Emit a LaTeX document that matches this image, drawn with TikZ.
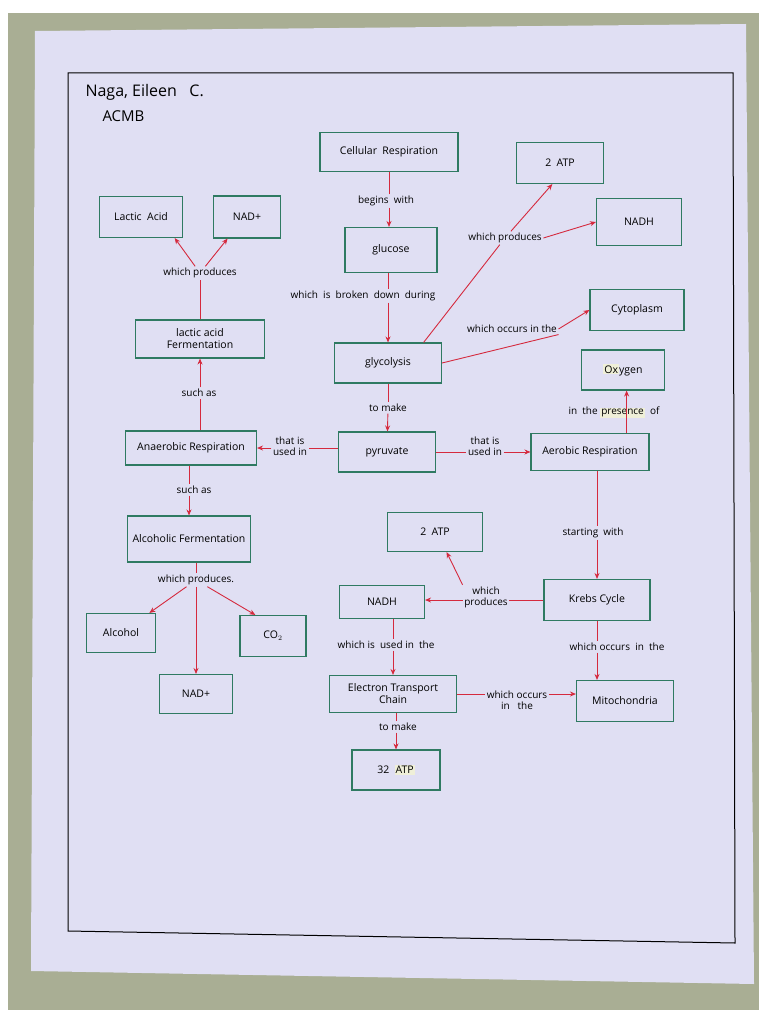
\documentclass[tikz,border=0pt]{standalone}
\usepackage{fontspec}
\setmainfont{Open Sans}
\usepackage{tikz}
\usetikzlibrary{arrows.meta}
\definecolor{paper}{HTML}{E0DFF3}
\definecolor{desk}{HTML}{A9AE94}
\definecolor{pen}{HTML}{2F7A62}
\definecolor{ink}{HTML}{D52A3E}
\definecolor{tape}{HTML}{EFEFD8}

\begin{document}
\begin{tikzpicture}[x=1pt, y=-1pt, >={Stealth[length=6pt,width=5pt]},
      box/.style={draw=pen, line width=1.1pt, inner sep=0pt,
                  font=\fontsize{10.5}{12}\selectfont, align=center},
      sz/.style 2 args={minimum width=#1, minimum height=#2},
      lbl/.style={font=\fontsize{10}{11}\selectfont, inner sep=1.5pt, align=center},
      link/.style={draw=ink, line width=0.9pt}]
    \useasboundingbox (0,0) rectangle (768,1024);
    \fill[white] (0,0) rectangle (768,1024);
    \fill[desk] (8,13) rectangle (759,1010);
    \fill[paper] (35,31) -- (746,24) -- (754,984) -- (31,971) -- cycle;
    \draw[line width=1pt] (68,73) -- (733,73) -- (735,943) -- (68,931) -- cycle;
    \node[anchor=west, font=\fontsize{16}{18}\selectfont] (who) at (82,92) {Naga,\ Eileen\ \ \ C.};
    \node[anchor=west, font=\fontsize{15}{17}\selectfont] (cls) at (99,116) {ACMB};
    \fboxsep=1pt
    % boxes
    \node[box, sz={138}{39}] (cellresp) at (389,152) {Cellular\ \ Respiration};
    \node[box, sz={87}{41}] (atpA) at (560,163) {2\ \ ATP};
    \node[box, sz={85}{47}] (nadhA) at (639,222) {NADH};
    \node[box, sz={83}{41}] (lacacid) at (141,217) {Lactic\ \ Acid};
    \node[box, sz={67}{42}] (nadA) at (247,217) {NAD+};
    \node[box, sz={92}{45}] (glucose) at (391,250) {glucose};
    \node[box, sz={94}{41}] (cyto) at (637,310) {Cytoplasm};
    \node[box, sz={129}{38}] (lacferm) at (200,339) {lactic acid\\Fermentation};
    \node[box, sz={107}{40}] (glyco) at (388,363) {glycolysis};
    \node[box, sz={83}{40}] (oxy) at (623,370) {\colorbox{tape}{Ox}ygen};
    \node[box, sz={131}{34}] (anaer) at (191,448) {Anaerobic Respiration};
    \node[box, sz={97}{40}] (pyru) at (387,452) {pyruvate};
    \node[box, sz={118}{37}] (aer) at (590,452) {Aerobic Respiration};
    \node[box, sz={123}{46}] (alcferm) at (189,539) {Alcoholic Fermentation};
    \node[box, sz={95}{39}] (atpB) at (435,532) {2\ \ ATP};
    \node[box, sz={106}{41}] (krebs) at (597,600) {Krebs Cycle};
    \node[box, sz={85}{33}] (nadhB) at (382,602) {NADH};
    \node[box, sz={69}{39}] (alcohol) at (121,633) {Alcohol};
    \node[box, sz={66}{41}] (cotwo) at (273,636) {CO$_2$};
    \node[box, sz={73}{39}] (nadB) at (196,694) {NAD+};
    \node[box, sz={127}{37}] (etc) at (393,694) {Electron Transport\\Chain};
    \node[box, sz={97}{41}] (mito) at (625,701) {Mitochondria};
    \node[box, sz={88}{40}] (atpC) at (396,770) {32\ \ \colorbox{tape}{ATP}};
    % labels
    \node[lbl] (begins) at (386,201) {begins\ \ with};
    \node[lbl] (broken) at (363,296) {which\ \ is\ \ broken\ \ down\ \ during};
    \node[lbl] (prodA) at (505,238) {which\ produces};
    \node[lbl] (occA) at (512,329) {which occurs\ in\ the};
    \node[lbl] (prodL) at (200,273) {which\ produces};
    \node[lbl] (suchA) at (199,393) {such as};
    \node[lbl] (tomakeA) at (388,408) {to make};
    \node[lbl] (usedL) at (290,446) {that is\\used in};
    \node[lbl] (usedR) at (485,446) {that is\\used in};
    \node[lbl] (presence) at (614,412) {in\ \ the\ \colorbox{tape}{presence}\ \ of};
    \node[lbl] (suchB) at (194,490) {such as};
    \node[lbl] (prodM) at (196,580) {which\ produces.};
    \node[lbl] (starting) at (593,533) {starting\ \ with};
    \node[lbl] (prodK) at (486,597) {which\\produces};
    \node[lbl] (usedE) at (386,645) {which is\ \ used in\ \ the};
    \node[lbl] (occK) at (617,647) {which occurs\ \ in\ \ the};
    \node[lbl] (occE) at (517,700) {which occurs\\in\ \ \ the};
    \node[lbl] (tomakeB) at (398,727) {to make};
    % connectors
    \draw[link] (begins.north -| cellresp.south) -- (cellresp.south);
    \draw[link, ->] (begins.south -| cellresp.south) -- (glucose.north -| cellresp.south);
    \draw[link] (glyco.north |- glucose.south) -- (glyco.north |- broken.north);
    \draw[link, ->] (glyco.north |- broken.south) -- (glyco.north);
    \draw[link] (glyco.30) -- (prodA); \draw[link, ->] (prodA) -- (atpA.-110);
    \draw[link, ->] (prodA.east) -- (nadhA.west);
    \draw[link] (glyco.east) -- (occA.south east); \draw[link, ->] (occA.east) -- (cyto.west);
    \draw[link] (lacferm) -- (prodL);
    \draw[link, ->] (prodL) -- (lacacid.-32); \draw[link, ->] (prodL) -- (nadA.-132);
    \draw[link] (lacferm.south |- anaer.north) -- (lacferm.south |- suchA.south);
    \draw[link, ->] (lacferm.south |- suchA.north) -- (lacferm.south);
    \draw[link] (glyco) -- (tomakeA); \draw[link, ->] (tomakeA) -- (pyru);
    \draw[link] (anaer.east -| pyru.west) -- (anaer.east -| usedL.east);
    \draw[link, ->] (anaer.east -| usedL.west) -- (anaer.east);
    \draw[link] (pyru.east) -- (pyru.east -| usedR.west);
    \draw[link, ->] (pyru.east -| usedR.east) -- (aer.west);
    \draw[link] (aer.north -| oxy.-80) -- (presence.north -| oxy.-80);
    \draw[link, ->] (presence.north -| oxy.-80) -- (oxy.-80);
    \draw[link] (alcferm.north |- anaer.south) -- (alcferm.north |- suchB.north);
    \draw[link, ->] (alcferm.north |- suchB.south) -- (alcferm.north);
    \draw[link] (alcferm.south -| prodM.north) -- (prodM.north);
    \draw[link, ->] (prodM) -- (alcohol); \draw[link, ->] (prodM) -- (nadB);
    \draw[link, ->] (prodM) -- (cotwo.130);
    \draw[link] (krebs.north |- aer.south) -- (krebs.north |- starting.north);
    \draw[link, ->] (krebs.north |- starting.south) -- (krebs.north);
    \draw[link] (krebs.west) -- (krebs.west -| prodK.east);
    \draw[link, ->] (krebs.west -| prodK.west) -- (krebs.west -| nadhB.east);
    \draw[link, ->] (prodK.north west) -- (atpB.-60);
    \draw[link] (etc.north |- nadhB.south) -- (etc.north |- usedE.north);
    \draw[link, ->] (etc.north |- usedE.south) -- (etc.north);
    \draw[link] (krebs.south) -- (krebs.south |- occK.north);
    \draw[link, ->] (krebs.south |- occK.south) -- (krebs.south |- mito.north);
    \draw[link] (etc.east) -- (etc.east -| occE.west);
    \draw[link, ->] (etc.east -| occE.east) -- (etc.east -| mito.west);
    \draw[link] (atpC.north |- etc.south) -- (atpC.north |- tomakeB.north);
    \draw[link, ->] (atpC.north |- tomakeB.south) -- (atpC.north);
  \end{tikzpicture}
\end{document}
